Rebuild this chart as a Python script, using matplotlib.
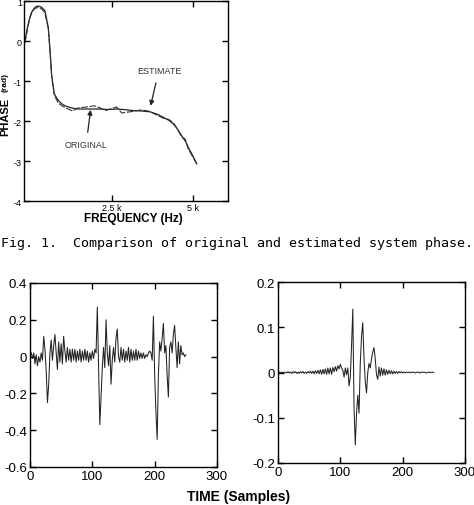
import matplotlib
matplotlib.use("Agg")
import matplotlib.pyplot as plt
import numpy as np

plt.rcParams["font.family"] = ["Liberation Sans", "DejaVu Sans"]
plt.rcParams["axes.unicode_minus"] = False

# Fig. 1 phase curves (frequency in Hz, phase in rad)
freq = [-185, -130, -83, -30, 20, 100, 175, 250, 330, 430, 535, 585, 640, 720,
        845, 950, 1050, 1200, 1300, 1410, 1600, 1800, 1950, 2130, 2300, 2450,
        2645, 2800, 2950, 3160, 3400, 3670, 3900, 4085, 4250, 4390, 4520, 4650,
        4760, 4855, 4980, 5115]
phase_orig = [0.0, 0.25, 0.43, 0.6, 0.72, 0.82, 0.87, 0.87, 0.84, 0.76, 0.34,
              -0.2, -0.87, -1.32, -1.49, -1.57, -1.62, -1.66, -1.68, -1.7, -1.7,
              -1.7, -1.7, -1.7, -1.71, -1.71, -1.7, -1.71, -1.72, -1.74, -1.75,
              -1.77, -1.83, -1.91, -1.98, -2.07, -2.2, -2.37, -2.5, -2.66, -2.85,
              -3.07]
phase_est = [-0.05, 0.2, 0.4, 0.58, 0.7, 0.8, 0.83, 0.84, 0.8, 0.7, 0.3,
             -0.22, -0.9, -1.36, -1.55, -1.62, -1.66, -1.72, -1.75, -1.68, -1.66,
             -1.64, -1.62, -1.67, -1.74, -1.7, -1.65, -1.8, -1.78, -1.76, -1.72,
             -1.76, -1.86, -1.93, -1.96, -2.04, -2.2, -2.4, -2.45, -2.7, -2.88,
             -3.07]

# time series, one value every 2 samples
t = list(range(0, 252, 2))
sig_left = [0.03, 0.02, -0.01, 0.02, -0.04, 0.01, -0.05, 0.00, -0.03, 0.02,
            -0.02, 0.11, 0.04, -0.08, -0.25, -0.15, 0.02, 0.09, -0.02, 0.06,
            0.12, 0.02, -0.07, 0.08, -0.03, 0.07, -0.04, 0.11, 0.03, -0.03,
            0.05, -0.02, 0.04, -0.03, 0.04, -0.02, 0.04, -0.03, 0.03, -0.02,
            0.04, -0.03, 0.03, -0.02, 0.04, -0.02, 0.03, -0.03, 0.02, -0.02,
            0.03, -0.01, 0.04, 0.02, 0.27, -0.05, -0.37, -0.22, -0.06, 0.05,
            -0.06, 0.20, 0.02, -0.05, 0.06, -0.15, -0.02, 0.05, -0.03, 0.10,
            0.15, 0.00, -0.03, 0.05, -0.02, 0.04, -0.03, 0.03, -0.02, 0.05,
            -0.03, 0.04, -0.02, 0.03, -0.02, 0.04, -0.02, 0.03, -0.01, 0.02,
            -0.01, 0.02, -0.01, 0.01, 0.00, 0.02, 0.03, 0.02, -0.02, 0.22,
            -0.10, -0.30, -0.45, -0.10, 0.08, 0.03, 0.10, 0.18, 0.02, 0.06,
            -0.10, -0.22, 0.05, 0.08, 0.02, 0.12, 0.17, 0.05, -0.06, 0.08,
            -0.04, 0.06, 0.01, 0.02, 0.00, 0.01]
sig_right = [0.000, 0.001, -0.001, 0.001, -0.001, 0.001, 0.000, -0.001, 0.002,
             -0.001, 0.001, -0.002, 0.002, -0.001, 0.002, -0.002, 0.001, -0.002,
             0.002, -0.001, 0.002, -0.002, 0.001, -0.002, 0.002, -0.001, 0.003,
             -0.002, 0.003, -0.003, 0.004, -0.002, 0.005, -0.003, 0.006, -0.004,
             0.007, -0.003, 0.008, -0.004, 0.010, -0.003, 0.010, -0.004, 0.011,
             0.002, 0.013, 0.003, 0.015, 0.008, 0.018, 0.010, 0.005, -0.010,
             0.010, -0.005, 0.010, -0.030, -0.010, 0.060, 0.140, -0.080, -0.160,
             -0.090, -0.050, -0.090, 0.020, 0.080, 0.110, 0.030, -0.020, -0.045,
             0.000, 0.020, 0.010, 0.030, 0.045, 0.055, 0.030, -0.005, -0.015,
             0.012, -0.008, 0.010, -0.006, 0.008, -0.006, 0.006, -0.004, 0.005,
             -0.003, 0.004, -0.003, 0.003, -0.002, 0.002, -0.002, 0.002, -0.001,
             0.002, -0.001, 0.001, -0.001, 0.001, 0.000, 0.001, -0.001, 0.001,
             0.000, 0.001, -0.001, 0.000, 0.001, 0.000, -0.001, 0.001, 0.000,
             0.001, 0.000, -0.001, 0.000, 0.001, 0.000, 0.000, 0.001, 0.000]

W, H = 474, 506
fig = plt.figure(figsize=(W / 100, H / 100), dpi=100)


def box(l, t_, r, b):
    return [l / W, 1 - b / H, (r - l) / W, (b - t_) / H]


def style(ax, size, pad=2):
    ax.tick_params(direction="in", top=True, right=True, labelsize=size,
                   length=4, width=1, pad=pad)
    for s in ax.spines.values():
        s.set_linewidth(1.0)


# top phase plot
ax1 = fig.add_axes(box(24, 2, 228, 202))
ax1.plot(freq, phase_orig, color="#222222", lw=0.9)
ax1.plot(freq, phase_est, color="#333333", lw=0.8, dashes=(6, 1.5))
ax1.set_xlim(-215, 6080)
ax1.set_ylim(-4, 1)
ax1.set_xticks([2500, 5000])
ax1.set_xticklabels(["2.5 k", "5 k"])
ax1.set_yticks([1, 0, -1, -2, -3, -4])
ax1.set_yticklabels(["1", "0", "-1", "-2", "-3", "-4"])
style(ax1, 6.5, pad=1.5)
ax1.annotate("ESTIMATE", xy=(3690, -1.62), xytext=(3950, -0.73),
             ha="center", va="center", fontsize=6.5, color="#333333",
             arrowprops=dict(arrowstyle="-|>", color="#222222", lw=0.9,
                             mutation_scale=7, shrinkA=4, shrinkB=0))
ax1.annotate("ORIGINAL", xy=(1840, -1.72), xytext=(1700, -2.6),
             ha="center", va="center", fontsize=6.5, color="#333333",
             arrowprops=dict(arrowstyle="-|>", color="#222222", lw=0.9,
                             mutation_scale=7, shrinkA=4, shrinkB=0))
fig.text(0.5 / W, 1 - 117 / H, "PHASE", rotation=90, ha="left", va="center",
         fontsize=8, fontweight="bold")
fig.text(1.5 / W, 1 - 83 / H, "(rad)", rotation=90, ha="left", va="center",
         fontsize=6, fontweight="bold")
fig.text(133 / W, 1 - 219 / H, "FREQUENCY (Hz)", ha="center", va="center",
         fontsize=8.5, fontweight="bold")

fig.text(1 / W, 1 - 243 / H,
         "Fig. 1.  Comparison of original and estimated system phase.",
         ha="left", va="center", fontsize=9.6, family="DejaVu Sans Mono")

# bottom left
ax2 = fig.add_axes(box(30, 284, 217, 468))
ax2.plot(t, sig_left, color="#222222", lw=0.75)
ax2.set_xlim(0, 300)
ax2.set_ylim(-0.6, 0.4)
ax2.set_xticks([0, 100, 200, 300])
ax2.set_yticks([0.4, 0.2, 0, -0.2, -0.4, -0.6])
ax2.set_yticklabels(["0.4", "0.2", "0", "-0.2", "-0.4", "-0.6"])
style(ax2, 9.5)

# bottom right
ax3 = fig.add_axes(box(278, 283, 465, 464))
ax3.plot(t, sig_right, color="#222222", lw=0.75)
ax3.set_xlim(0, 300)
ax3.set_ylim(-0.2, 0.2)
ax3.set_xticks([0, 100, 200, 300])
ax3.set_yticks([0.2, 0.1, 0, -0.1, -0.2])
ax3.set_yticklabels(["0.2", "0.1", "0", "-0.1", "-0.2"])
style(ax3, 9.5)

fig.text(239 / W, 1 - 497 / H, "TIME (Samples)", ha="center", va="center",
         fontsize=10, fontweight="bold")

fig.savefig("out.png", dpi=100)
